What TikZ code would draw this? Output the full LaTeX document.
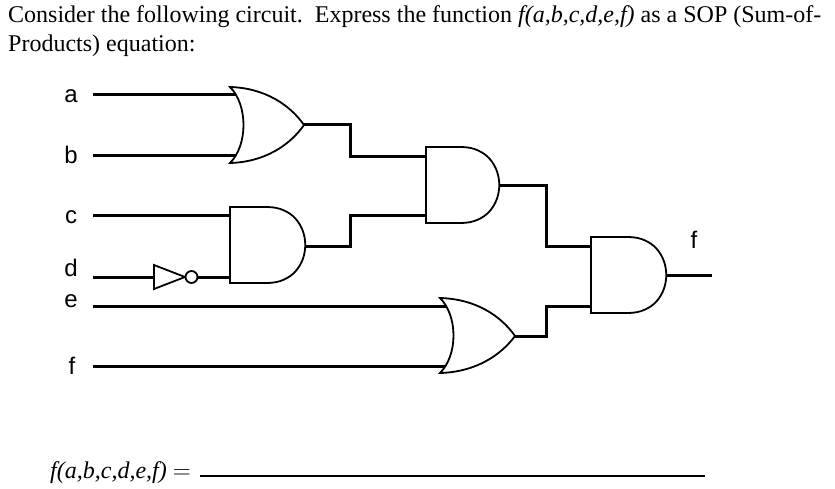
\documentclass[tikz,border=0pt]{standalone}
\usepackage{fontspec}
\setmainfont{Liberation Serif}
\setsansfont{Liberation Sans}
\begin{document}
\begin{tikzpicture}[x=1pt,y=-1pt,
  wire/.style={line width=3pt},
  gate/.style={line width=1.8pt},
  lbl/.style={font=\sffamily\fontsize{24}{24}\selectfont, anchor=base},
  txt/.style={font=\fontsize{24}{26}\selectfont, anchor=base west, inner sep=0pt}]
\useasboundingbox (0,0) rectangle (835,489);
\fill[white] (0,0) rectangle (835,489);
\node[txt] (t1) at (8,23) {Consider the following circuit.\ \ Express the function \textit{f(a,b,c,d,e,f)} as a SOP (Sum-of-};
\node[txt] (t2) at (8,52) {Products) equation:};
% input labels
\node[lbl] (la) at (71,103) {a};
\node[lbl] (lb) at (71,164) {b};
\node[lbl] (lc) at (71,223) {c};
\node[lbl] (ld) at (71,276) {d};
\node[lbl] (le) at (71,307) {e};
\node[lbl] (lf) at (72,374) {f};
\node[lbl] (lo) at (694,248) {f};
% coordinates
\coordinate (a0) at (93,95); \coordinate (a1) at (238,95);
\coordinate (b0) at (93,156); \coordinate (b1) at (238,156);
\coordinate (c0) at (93,216); \coordinate (c1) at (230,216);
\coordinate (d0) at (93,277); \coordinate (d1) at (154,277);
\coordinate (n0) at (198,277); \coordinate (n1) at (230,277);
\coordinate (e0) at (93,306); \coordinate (e1) at (448,306);
\coordinate (f0) at (93,366); \coordinate (f1) at (448,366);
\coordinate (o1) at (304,125); \coordinate (x1) at (426,157);
\coordinate (o2) at (305,246); \coordinate (x2) at (426,216);
\coordinate (o3) at (499,186); \coordinate (x3) at (591,246);
\coordinate (o4) at (515,336); \coordinate (x4) at (591,306);
\coordinate (o5) at (666,275); \coordinate (out) at (712,275);
% wires
\draw[wire] (a0) -- (a1);
\draw[wire] (b0) -- (b1);
\draw[wire] (c0) -- (c1);
\draw[wire] (d0) -- (d1);
\draw[wire] (n0) -- (n1);
\draw[wire] (e0) -- (e1);
\draw[wire] (f0) -- (f1);
\draw[wire] (o1) -- (350,125) |- (x1);
\draw[wire] (o2) -- (350,246) |- (x2);
\draw[wire] (o3) -- (546,186) |- (x3);
\draw[wire] (o4) -- (546,336) |- (x4);
\draw[wire] (o5) -- (out);
% OR gate 1
\draw[gate,fill=white] (230,87) .. controls (248,105) and (248,145) .. (230,163)
  .. controls (265,162) and (290,145) .. (o1)
  .. controls (290,105) and (265,88) .. cycle;
% OR gate 2
\draw[gate,fill=white] (440,298) .. controls (458,316) and (458,355) .. (440,373)
  .. controls (476,372) and (501,355) .. (o4)
  .. controls (501,316) and (476,299) .. cycle;
% AND gates
\draw[gate,fill=white] (230,207) -- (267,207) .. controls (318,207) and (318,283) .. (267,283) -- (230,283) -- cycle;
\draw[gate,fill=white] (426,147) -- (461,147) .. controls (512,147) and (512,223) .. (461,223) -- (426,223) -- cycle;
\draw[gate,fill=white] (591,237) -- (628,237) .. controls (679,237) and (679,313) .. (628,313) -- (591,313) -- cycle;
% inverter
\draw[gate,fill=white] (154,265) -- (185,277) -- (154,289) -- cycle;
\draw[gate,fill=white] (191.5,277) circle[radius=6];
% bottom
\node[txt] (eq) at (50,478) {\textit{f(a,b,c,d,e,f)} $=$};
\coordinate (u0) at (200,476); \coordinate (u1) at (705,476);
\draw[line width=1.5pt] (u0) -- (u1);
\end{tikzpicture}
\end{document}
